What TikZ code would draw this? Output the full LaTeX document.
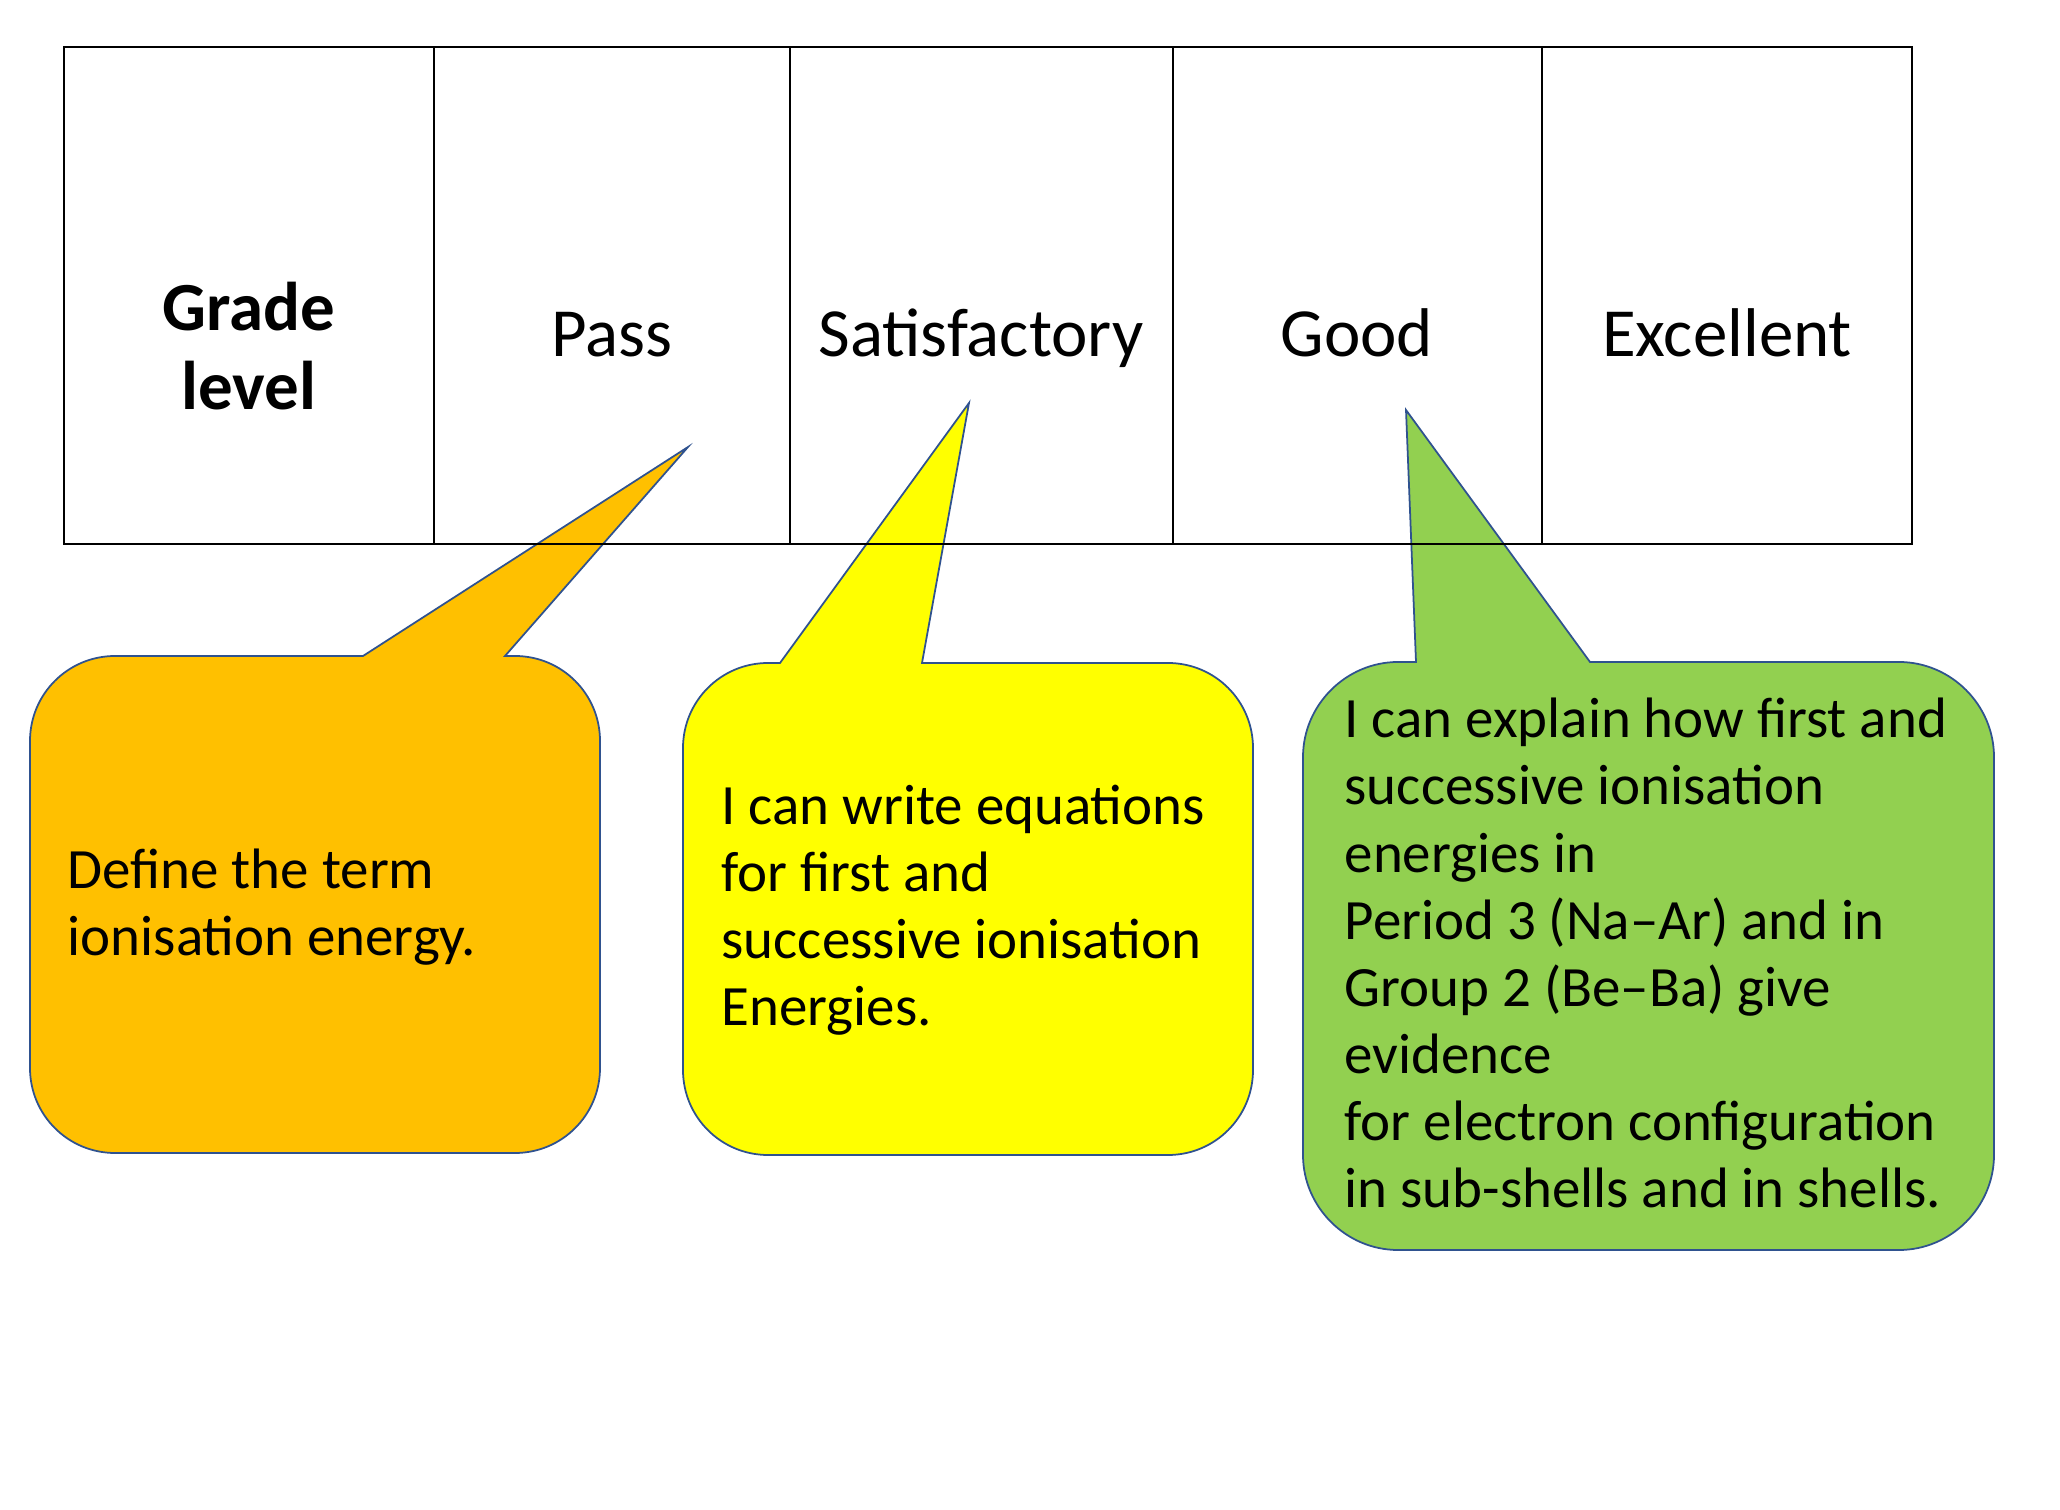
\documentclass[tikz,border=0pt]{standalone}
\usepackage{fontspec}
\setmainfont{Carlito}
\definecolor{calloutline}{HTML}{2F528F}
\definecolor{orangefill}{HTML}{FFC000}
\definecolor{yellowfill}{HTML}{FFFF00}
\definecolor{greenfill}{HTML}{92D050}
\begin{document}
\begin{tikzpicture}[x=0.01cm,y=-0.01cm,
  tableline/.style={draw=black,line width=0.8pt},
  callout/.style={draw=calloutline,line width=0.5pt,line join=miter},
  headtext/.style={font=\fontsize{19.6pt}{22.5pt}\selectfont,inner sep=0pt},
  bodytext/.style={font=\fontsize{16.2pt}{19.1pt}\selectfont,inner sep=0pt,align=left,anchor=base west}]
\useasboundingbox (0,0) rectangle (2060,1510);
% orange callout
\draw[callout,fill=orangefill] (115,656) -- (363,656) -- (688,447) -- (505,656) -- (515,656)
  .. controls (562,656) and (600,694) .. (600,741) -- (600,1068)
  .. controls (600,1115) and (562,1153) .. (515,1153) -- (115,1153)
  .. controls (68,1153) and (30,1115) .. (30,1068) -- (30,741)
  .. controls (30,694) and (68,656) .. (115,656) -- cycle;
% yellow callout
\draw[callout,fill=yellowfill] (768,663) -- (780,663) -- (969,403) -- (922,663) -- (1168,663)
  .. controls (1215,663) and (1253,701) .. (1253,748) -- (1253,1070)
  .. controls (1253,1117) and (1215,1155) .. (1168,1155) -- (768,1155)
  .. controls (721,1155) and (683,1117) .. (683,1070) -- (683,748)
  .. controls (683,701) and (721,663) .. (768,663) -- cycle;
% green callout
\draw[callout,fill=greenfill] (1398,662) -- (1416,662) -- (1406,410) -- (1590,662) -- (1899,662)
  .. controls (1951,662) and (1994,705) .. (1994,757) -- (1994,1155)
  .. controls (1994,1207) and (1951,1250) .. (1899,1250) -- (1398,1250)
  .. controls (1346,1250) and (1303,1207) .. (1303,1155) -- (1303,757)
  .. controls (1303,705) and (1346,662) .. (1398,662) -- cycle;
% table
\draw[tableline] (64,47) rectangle (1912,544);
\draw[tableline] (434,47) -- (434,544);
\draw[tableline] (790,47) -- (790,544);
\draw[tableline] (1173,47) -- (1173,544);
\draw[tableline] (1542,47) -- (1542,544);
% header texts
\node[headtext,align=center,anchor=base,font=\fontsize{19.6pt}{22.5pt}\selectfont\bfseries] (grade) at (249,410) {Grade\\level};
\node[headtext,anchor=base] (pass) at (612,357) {Pass};
\node[headtext,anchor=base] (satis) at (981,357) {Satisfactory};
\node[headtext,anchor=base] (good) at (1357,357) {Good};
\node[headtext,anchor=base] (excel) at (1727,357) {Excellent};
% callout texts (base anchor = last line)
\node[bodytext] (t1) at (67,956) {Define the term\\ionisation energy.};
\node[bodytext] (t2) at (721,1026) {I can write equations\\for first and\\successive ionisation\\Energies.};
\node[bodytext] (t3) at (1344,1208) {I can explain how first and\\successive ionisation\\energies in\\Period 3 (Na–Ar) and in\\Group 2 (Be–Ba) give\\evidence\\for electron configuration\\in sub-shells and in shells.};
\end{tikzpicture}
\end{document}
